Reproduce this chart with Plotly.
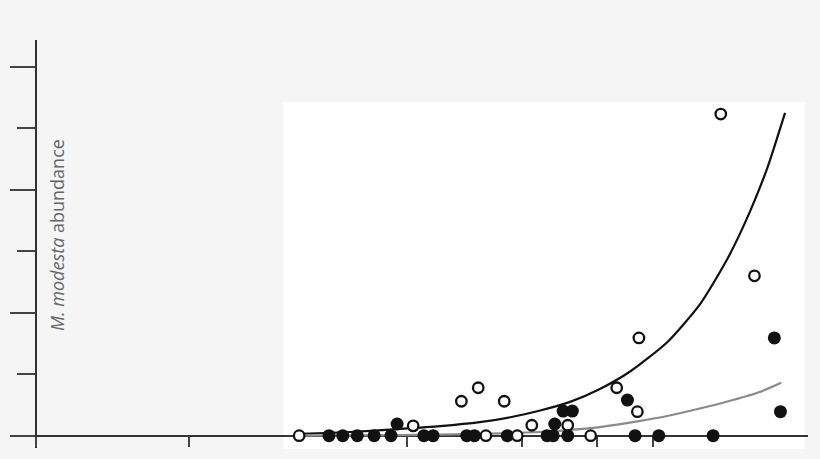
import plotly.graph_objects as go

# Open circles (one group)
open_x = [34.4, 49.3, 55.6, 57.8, 58.8, 61.2, 62.9, 64.8, 69.5, 72.5, 75.9, 78.6, 78.8, 89.5, 93.9]
open_y = [0, 0.16, 0.56, 0.78, 0, 0.56, 0, 0.17, 0.17, 0, 0.78, 0.39, 1.59, 5.23, 2.60]

# Filled circles (other group)
filled_x = [38.3, 40.1, 42.0, 44.2, 46.4, 47.2, 50.7, 51.9, 56.3, 57.3, 61.6, 66.8, 67.6, 67.8,
            68.9, 69.5, 70.1, 77.3, 78.3, 81.4, 88.5, 96.5, 97.3]
filled_y = [0, 0, 0, 0, 0, 0.19, 0, 0, 0, 0, 0, 0, 0, 0.19,
            0.40, 0, 0.40, 0.58, 0, 0, 0, 1.59, 0.39]

# Fitted curves
black_x = [34.5, 41.0, 47.6, 52.8, 58.0, 62.0, 65.9, 69.8, 73.7, 77.6, 82.5, 86.8, 90.3, 93.3, 95.6, 97.9]
black_y = [0.03, 0.06, 0.11, 0.155, 0.22, 0.30, 0.41, 0.55, 0.76, 1.04, 1.52, 2.14, 2.86, 3.64, 4.36, 5.25]
gray_x = [34.5, 47.6, 58.0, 65.9, 70.2, 73.7, 79.0, 82.5, 87.7, 91.1, 94.6, 97.4]
gray_y = [0.0, 0.01, 0.03, 0.06, 0.10, 0.14, 0.24, 0.32, 0.47, 0.58, 0.71, 0.86]

x_ticks = [0, 20, 48.5, 63.5, 73.3, 80.65]
y_major = [0, 2, 4, 6]
y_minor = [1, 3, 5]

fig = go.Figure()
fig.add_trace(go.Scatter(x=black_x, y=black_y, mode="lines",
                         line=dict(color="#111111", width=2.2, shape="spline", smoothing=0.6),
                         hoverinfo="skip"))
fig.add_trace(go.Scatter(x=gray_x, y=gray_y, mode="lines",
                         line=dict(color="#8a8a8a", width=2.2, shape="spline", smoothing=0.6),
                         hoverinfo="skip"))
fig.add_trace(go.Scatter(x=filled_x, y=filled_y, mode="markers",
                         marker=dict(size=13, color="#111111", line=dict(width=0))))
fig.add_trace(go.Scatter(x=open_x, y=open_y, mode="markers",
                         marker=dict(size=10.5, color="white", line=dict(width=2.3, color="#111111"))))

bg = "#f5f5f5"
L, R, T, B = 13, 12, 40, 11
W, H = 820, 459
pw, ph = W - L - R, H - T - B

def px_x(p):
    return (p - L) / pw

def px_y(p):
    return (H - B - p) / ph

fig.update_layout(
    width=W, height=H,
    margin=dict(l=L, r=R, t=T, b=B),
    paper_bgcolor=bg, plot_bgcolor=bg,
    showlegend=False,
    xaxis=dict(range=[-3.0, 100.9], showgrid=False, zeroline=False,
               showline=True, linecolor="#333333", linewidth=2,
               ticks="outside", ticklen=10, tickwidth=2, tickcolor="#444444",
               tickvals=x_ticks, showticklabels=False,
               anchor="free", position=px_y(435.7), layer="below traces"),
    yaxis=dict(range=[-0.2, 6.434], showgrid=False, zeroline=False,
               showline=True, linecolor="#333333", linewidth=2,
               ticks="outside", ticklen=25, tickwidth=2, tickcolor="#444444",
               tickvals=y_major, showticklabels=False,
               minor=dict(tickvals=y_minor, ticks="outside", ticklen=18,
                          tickwidth=2, tickcolor="#444444"),
               anchor="free", position=px_x(36), layer="below traces"),
    shapes=[dict(type="rect", xref="paper", yref="paper",
                 x0=px_x(283), x1=px_x(805), y0=px_y(449), y1=px_y(102.3),
                 fillcolor="white", line=dict(width=0), layer="below")],
    annotations=[dict(text="<i>M. modesta</i> abundance", xref="paper", yref="paper",
                      x=px_x(57), y=px_y(235), textangle=-90, showarrow=False,
                      xanchor="center", yanchor="middle",
                      font=dict(family="Open Sans", size=18, color="#666666"))],
)

fig.write_html("out.html", config={"displayModeBar": False},
               post_script="document.body.style.margin='0';document.body.style.background='%s';" % bg)
